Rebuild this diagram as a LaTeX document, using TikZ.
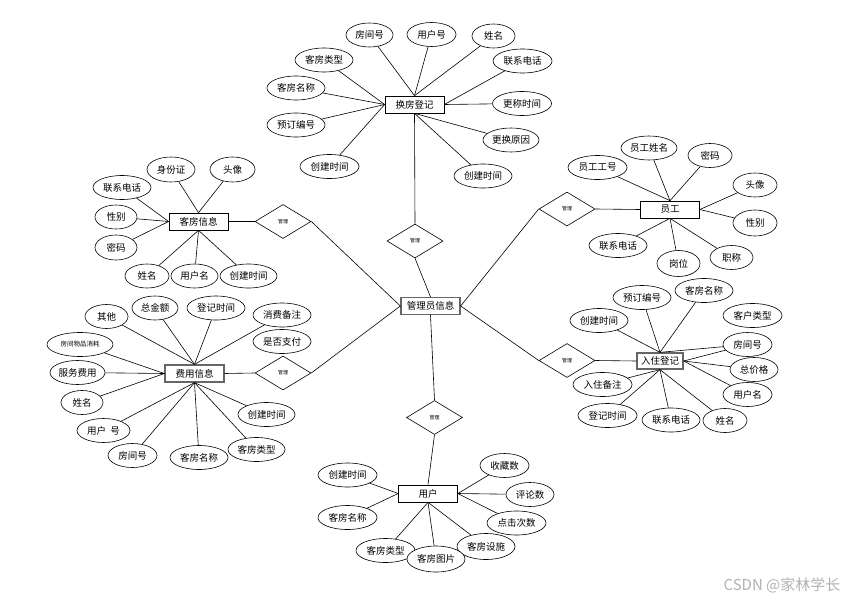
\documentclass[tikz,border=0pt]{standalone}
\usepackage{fontspec}
\setmainfont{Noto Sans CJK SC}
\usetikzlibrary{shapes.geometric}
\begin{document}
\begin{tikzpicture}[x=1pt,y=-1pt,
 ent/.style={draw, rectangle, minimum width=59pt, minimum height=17pt, inner sep=0pt, line width=0.7pt, font=\fontsize{9.5}{11}\selectfont},
 entg/.style={ent, draw=black!60, line width=1.3pt},
 attr/.style={draw, ellipse, inner sep=0pt, minimum height=24pt, line width=0.6pt, font=\fontsize{9.5}{11}\selectfont},
 rel/.style={draw, diamond, inner sep=0pt, minimum width=56pt, minimum height=34pt, line width=0.6pt, font=\fontsize{5}{6}\selectfont},
 lnk/.style={line width=0.6pt}]
\useasboundingbox[fill=white] (0,0) rectangle (856,602);

% entities
\node[entg] (M) at (430.5,306) {管理员信息};
\node[ent] (E1) at (414.5,104.5) {换房登记};
\node[ent] (K) at (198.5,221.5) {客房信息};
\node[entg] (F) at (194.5,373.5) {费用信息};
\node[ent] (Y) at (670,209.5) {员工};
\node[entg, minimum width=46pt, minimum height=16pt] (R) at (660,361) {入住登记};
\node[ent] (U) at (428,493.5) {用户};

% relations
\node[rel] (r1) at (415,241) {管理};
\node[rel] (r2) at (283,221.5) {管理};
\node[rel] (r3) at (283,373) {管理};
\node[rel] (r4) at (567,209) {管理};
\node[rel] (r5) at (567,360.5) {管理};
\node[rel] (r6) at (434.5,417.5) {管理};

\draw[lnk] (E1.south) -- (r1.north);
\draw[lnk] (r1.south) -- (M.north);
\draw[lnk] (K.east) -- (r2.west);
\draw[lnk] (r2.east) -- (M.west);
\draw[lnk] (F.east) -- (r3.west);
\draw[lnk] (r3.east) -- (M.west);
\draw[lnk] (M.east) -- (r4.west);
\draw[lnk] (r4.east) -- (Y.west);
\draw[lnk] (M.east) -- (r5.west);
\draw[lnk] (r5.east) -- (R.west);
\draw[lnk] (M.south) -- (r6.north);
\draw[lnk] (r6.south) -- (U.north);

% 换房登记 attributes
\node[attr, minimum width=47pt] (a1) at (369.5,35) {房间号};
\node[attr, minimum width=49pt] (a2) at (431.5,34.5) {用户号};
\node[attr, minimum width=43pt] (a3) at (493.5,36) {姓名};
\node[attr, minimum width=59pt] (a4) at (522.5,61) {联系电话};
\node[attr, minimum width=59pt] (a5) at (522,103.5) {更称时间};
\node[attr, minimum width=56pt] (a6) at (511,140) {更换原因};
\node[attr, minimum width=58pt] (a7) at (483,176) {创建时间};
\node[attr, minimum width=59pt] (a8) at (329.5,166.5) {创建时间};
\node[attr, minimum width=58pt] (a9) at (296,125) {预订编号};
\node[attr, minimum width=58pt] (a10) at (296,88) {客房名称};
\node[attr, minimum width=58pt] (a11) at (324,60) {客房类型};
\foreach \n in {a1,a2,a3} \draw[lnk] (\n) -- (E1.north);
\foreach \n in {a4,a5} \draw[lnk] (\n) -- (E1.east);
\foreach \n in {a6,a7} \draw[lnk] (\n) -- (E1.south);
\foreach \n in {a8,a9,a10,a11} \draw[lnk] (\n) -- (E1.west);

% 客房信息 attributes
\node[attr, minimum width=48pt, minimum height=25pt] (b1) at (171,169.5) {身份证};
\node[attr, minimum width=45pt, minimum height=25pt] (b2) at (232.5,169.5) {头像};
\node[attr, minimum width=58pt] (b3) at (122,187.5) {联系电话};
\node[attr, minimum width=42pt] (b4) at (116,217) {性别};
\node[attr, minimum width=42pt, minimum height=25pt] (b5) at (116,247.5) {密码};
\node[attr, minimum width=44pt] (b6) at (147,276) {姓名};
\node[attr, minimum width=47pt] (b7) at (194.5,276) {用户名};
\node[attr, minimum width=57pt] (b8) at (248.5,276) {创建时间};
\foreach \n in {b1,b2} \draw[lnk] (\n) -- (K.north);
\foreach \n in {b3,b4,b5} \draw[lnk] (\n) -- (K.west);
\foreach \n in {b6,b7,b8} \draw[lnk] (\n) -- (K.south);

% 费用信息 attributes
\node[attr, minimum width=43pt] (c1) at (106.5,316.5) {其他};
\node[attr, minimum width=46pt] (c2) at (155,308) {总金额};
\node[attr, minimum width=58pt] (c3) at (216,308) {登记时间};
\node[attr, minimum width=58pt] (c4) at (282,315) {消费备注};
\node[attr, minimum width=58pt] (c5) at (282,341.5) {是否支付};
\node[attr, minimum width=66pt, font=\fontsize{6.5}{8}\selectfont] (c6) at (80,344.5) {房间物品消耗};
\node[attr, minimum width=55pt] (c7) at (77.5,372.5) {服务费用};
\node[attr, minimum width=42pt] (c8) at (82,402.5) {姓名};
\node[attr, minimum width=53pt] (c9) at (103.5,430.5) {用户\ \ 号};
\node[attr, minimum width=49pt] (c10) at (132.5,455.5) {房间号};
\node[attr, minimum width=58pt] (c11) at (199,457.5) {客房名称};
\node[attr, minimum width=57pt] (c12) at (256.5,449.5) {客房类型};
\node[attr, minimum width=57pt] (c13) at (266.5,414.5) {创建时间};
\foreach \n in {c1,c2,c3,c4} \draw[lnk] (\n) -- (F.north);
\foreach \n in {c6,c7,c8} \draw[lnk] (\n) -- (F.west);
\foreach \n in {c9,c10,c11,c12,c13} \draw[lnk] (\n) -- (F.south);

% 员工 attributes
\node[attr, minimum width=56pt] (d1) at (649,148) {员工姓名};
\node[attr, minimum width=59pt] (d2) at (597.5,167.5) {员工工号};
\node[attr, minimum width=44pt] (d3) at (710,155.5) {密码};
\node[attr, minimum width=44pt] (d4) at (755,185) {头像};
\node[attr, minimum width=44pt, minimum height=26pt] (d5) at (755,223) {性别};
\node[attr, minimum width=58pt] (d6) at (618,245.5) {联系电话};
\node[attr, minimum width=43pt, minimum height=26pt] (d7) at (678.5,263.5) {岗位};
\node[attr, minimum width=43pt] (d8) at (731.5,257.5) {职称};
\foreach \n in {d1,d2,d3} \draw[lnk] (\n) -- (Y.north);
\foreach \n in {d4,d5} \draw[lnk] (\n) -- (Y.east);
\foreach \n in {d6,d7,d8} \draw[lnk] (\n) -- (Y.south);

% 入住登记 attributes
\node[attr, minimum width=58pt] (e1) at (642,297.5) {预订编号};
\node[attr, minimum width=58pt] (e2) at (704,290.5) {客房名称};
\node[attr, minimum width=59pt] (e3) at (752.5,315.5) {客户类型};
\node[attr, minimum width=58pt] (e4) at (599,320.5) {创建时间};
\node[attr, minimum width=49pt] (e5) at (747.5,344.5) {房间号};
\node[attr, minimum width=48pt] (e6) at (754,369.5) {总价格};
\node[attr, minimum width=49pt] (e7) at (747.5,394.5) {用户名};
\node[attr, minimum width=59pt] (e8) at (602.5,384.5) {入住备注};
\node[attr, minimum width=59pt] (e9) at (607.5,415.5) {登记时间};
\node[attr, minimum width=58pt] (e10) at (671,420) {联系电话};
\node[attr, minimum width=44pt] (e11) at (725,420.5) {姓名};
\foreach \n in {e1,e2,e4,e5} \draw[lnk] (\n) -- (R.north);
\foreach \n in {e5,e6,e7} \draw[lnk] (\n) -- (R.east);
\foreach \n in {e8,e9,e10,e11} \draw[lnk] (\n) -- (R.south);

% 用户 attributes
\node[attr, minimum width=49pt] (f1) at (504.5,465.5) {收藏数};
\node[attr, minimum width=48pt] (f2) at (530,494.5) {评论数};
\node[attr, minimum width=59pt] (f3) at (516.5,523) {点击次数};
\node[attr, minimum width=59pt] (f4) at (347.5,475) {创建时间};
\node[attr, minimum width=59pt] (f5) at (347.5,517.5) {客房名称};
\node[attr, minimum width=59pt] (f6) at (385.5,550.5) {客房类型};
\node[attr, minimum width=58pt, minimum height=26pt] (f8) at (486,546.5) {客房设施};
\foreach \n in {f1,f2,f3} \draw[lnk] (\n) -- (U.east);
\foreach \n in {f4,f5} \draw[lnk] (\n) -- (U.west);
\foreach \n in {f6,f8} \draw[lnk] (\n) -- (U.south);
\node[attr, minimum width=58pt, minimum height=26pt, fill=white] (f7) at (436,559) {客房图片};
\draw[lnk] (f7) -- (U.south);

% watermark
\node[text=black!30, font=\fontsize{15}{17}\selectfont, inner sep=0pt] (wm) at (782,585) {CSDN @家林学长};
\end{tikzpicture}
\end{document}
